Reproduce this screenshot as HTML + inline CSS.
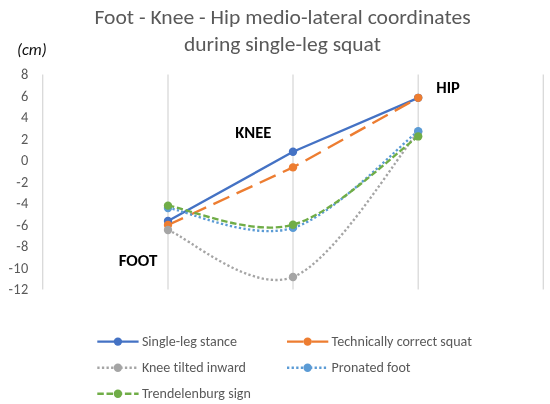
<!DOCTYPE html><html><head><meta charset="utf-8"><title>Foot - Knee - Hip medio-lateral coordinates</title><style>html,body{margin:0;padding:0;background:#fff;width:550px;height:404px;overflow:hidden}svg{display:block}text{font-family:Carlito,"Liberation Sans",sans-serif;font-variant-ligatures:none;font-kerning:normal}</style></head><body>
<svg width="550" height="404" viewBox="0 0 550 404">
<rect width="550" height="404" fill="#fff"/>
<text transform="translate(282.5 24.0) scale(1 0.98)" font-size="21.5" fill="#595959" text-anchor="middle" textLength="376.20" lengthAdjust="spacingAndGlyphs">Foot - Knee - Hip medio-lateral coordinates</text>
<text transform="translate(282.4 50.5) scale(1 0.98)" font-size="21.5" fill="#595959" text-anchor="middle" textLength="197.01" lengthAdjust="spacingAndGlyphs">during single-leg squat</text>
<text x="17" y="55.4" font-size="16.4" font-style="italic" fill="#0d0d0d" textLength="29.73" lengthAdjust="spacingAndGlyphs">(cm)</text>
<text transform="translate(28.6 79.00) scale(1 1.06)" text-rendering="geometricPrecision" font-size="14.4" letter-spacing="0.35" fill="#595959" text-anchor="end" textLength="7.66" lengthAdjust="spacingAndGlyphs">8</text>
<text transform="translate(28.6 100.50) scale(1 1.06)" text-rendering="geometricPrecision" font-size="14.4" letter-spacing="0.35" fill="#595959" text-anchor="end" textLength="7.66" lengthAdjust="spacingAndGlyphs">6</text>
<text transform="translate(28.6 122.00) scale(1 1.06)" text-rendering="geometricPrecision" font-size="14.4" letter-spacing="0.35" fill="#595959" text-anchor="end" textLength="7.66" lengthAdjust="spacingAndGlyphs">4</text>
<text transform="translate(28.6 143.50) scale(1 1.06)" text-rendering="geometricPrecision" font-size="14.4" letter-spacing="0.35" fill="#595959" text-anchor="end" textLength="7.66" lengthAdjust="spacingAndGlyphs">2</text>
<text transform="translate(28.6 165.00) scale(1 1.06)" text-rendering="geometricPrecision" font-size="14.4" letter-spacing="0.35" fill="#595959" text-anchor="end" textLength="7.66" lengthAdjust="spacingAndGlyphs">0</text>
<text transform="translate(28.6 186.50) scale(1 1.06)" text-rendering="geometricPrecision" font-size="14.4" letter-spacing="0.35" fill="#595959" text-anchor="end" textLength="12.41" lengthAdjust="spacingAndGlyphs">-2</text>
<text transform="translate(28.6 208.00) scale(1 1.06)" text-rendering="geometricPrecision" font-size="14.4" letter-spacing="0.35" fill="#595959" text-anchor="end" textLength="12.41" lengthAdjust="spacingAndGlyphs">-4</text>
<text transform="translate(28.6 229.50) scale(1 1.06)" text-rendering="geometricPrecision" font-size="14.4" letter-spacing="0.35" fill="#595959" text-anchor="end" textLength="12.41" lengthAdjust="spacingAndGlyphs">-6</text>
<text transform="translate(28.6 251.00) scale(1 1.06)" text-rendering="geometricPrecision" font-size="14.4" letter-spacing="0.35" fill="#595959" text-anchor="end" textLength="12.41" lengthAdjust="spacingAndGlyphs">-8</text>
<text transform="translate(28.6 272.50) scale(1 1.06)" text-rendering="geometricPrecision" font-size="14.4" letter-spacing="0.35" fill="#595959" text-anchor="end" textLength="20.05" lengthAdjust="spacingAndGlyphs">-10</text>
<text transform="translate(28.6 294.00) scale(1 1.06)" text-rendering="geometricPrecision" font-size="14.4" letter-spacing="0.35" fill="#595959" text-anchor="end" textLength="20.05" lengthAdjust="spacingAndGlyphs">-12</text>
<line x1="42.7" y1="74.50" x2="42.7" y2="289.50" stroke="#d9d9d9" stroke-width="1.3"/>
<line x1="168.0" y1="74.50" x2="168.0" y2="289.50" stroke="#d9d9d9" stroke-width="1.3"/>
<line x1="293.0" y1="74.50" x2="293.0" y2="289.50" stroke="#d9d9d9" stroke-width="1.3"/>
<line x1="418.2" y1="74.50" x2="418.2" y2="289.50" stroke="#d9d9d9" stroke-width="1.3"/>
<line x1="543.3" y1="74.50" x2="543.3" y2="289.50" stroke="#d9d9d9" stroke-width="1.3"/>
<path d="M168.00,221.02 L293.00,151.79 L418.20,97.83" fill="none" stroke="#4472C4" stroke-width="2.35" stroke-linejoin="round" stroke-linecap="round"/>
<path d="M168.00,225.00 L293.00,167.38 L418.20,97.83" fill="none" stroke="#ED7D31" stroke-width="2.35" stroke-linejoin="round" stroke-dasharray="17.5 8.0" stroke-dashoffset="1.0" stroke-linecap="butt"/>
<path d="M168.00,230.05 C188.83,237.88 251.30,293.37 293.00,277.03 C334.70,260.69 397.33,156.18 418.20,132.01" fill="none" stroke="#A5A5A5" stroke-width="2.35" stroke-linejoin="round" stroke-dasharray="2.3 2.3" stroke-linecap="butt"/>
<path d="M168.00,208.01 C188.83,211.33 251.30,240.71 293.00,227.90 C334.70,215.09 397.33,147.28 418.20,131.15" fill="none" stroke="#5B9BD5" stroke-width="2.35" stroke-linejoin="round" stroke-dasharray="2.3 2.3" stroke-linecap="butt"/>
<path d="M168.00,205.65 C188.83,208.84 251.30,236.32 293.00,224.78 C334.70,213.25 397.33,151.15 418.20,136.42" fill="none" stroke="#70AD47" stroke-width="2.35" stroke-linejoin="round" stroke-dasharray="6.5 2.7" stroke-linecap="butt"/>
<circle cx="168.0" cy="221.02" r="4.2" fill="#4472C4"/>
<circle cx="293.0" cy="151.79" r="4.2" fill="#4472C4"/>
<circle cx="418.2" cy="97.83" r="4.2" fill="#4472C4"/>
<circle cx="168.0" cy="225.00" r="4.2" fill="#ED7D31"/>
<circle cx="293.0" cy="167.38" r="4.2" fill="#ED7D31"/>
<circle cx="418.2" cy="97.83" r="4.2" fill="#ED7D31"/>
<circle cx="168.0" cy="230.05" r="4.2" fill="#A5A5A5"/>
<circle cx="293.0" cy="277.03" r="4.2" fill="#A5A5A5"/>
<circle cx="418.2" cy="132.01" r="4.2" fill="#A5A5A5"/>
<circle cx="168.0" cy="208.01" r="4.2" fill="#5B9BD5"/>
<circle cx="293.0" cy="227.90" r="4.2" fill="#5B9BD5"/>
<circle cx="418.2" cy="131.15" r="4.2" fill="#5B9BD5"/>
<circle cx="168.0" cy="205.65" r="4.2" fill="#70AD47"/>
<circle cx="293.0" cy="224.78" r="4.2" fill="#70AD47"/>
<circle cx="418.2" cy="136.42" r="4.2" fill="#70AD47"/>
<text x="235.3" y="138" font-size="16.5" font-weight="bold" fill="#000" textLength="36.00" lengthAdjust="spacingAndGlyphs">KNEE</text>
<text x="118.7" y="265.6" font-size="16.5" font-weight="bold" fill="#000" textLength="38.60" lengthAdjust="spacingAndGlyphs">FOOT</text>
<text x="436.3" y="92.7" font-size="16.5" font-weight="bold" fill="#000" textLength="23.59" lengthAdjust="spacingAndGlyphs">HIP</text>
<path d="M97.30,341.60 L138.60,341.60" fill="none" stroke="#4472C4" stroke-width="2.35" stroke-linecap="butt"/>
<circle cx="117.90" cy="341.60" r="4.2" fill="#4472C4"/>
<text x="141.90" y="346.00" font-size="14.05" fill="#595959" textLength="95.09" lengthAdjust="spacingAndGlyphs">Single-leg stance</text>
<path d="M287.00,341.60 L328.30,341.60" fill="none" stroke="#ED7D31" stroke-width="2.35" stroke-dasharray="17.5 8.0" stroke-dashoffset="1.0" stroke-linecap="butt"/>
<circle cx="307.60" cy="341.60" r="4.2" fill="#ED7D31"/>
<text x="331.60" y="346.00" font-size="14.05" fill="#595959" textLength="140.25" lengthAdjust="spacingAndGlyphs">Technically correct squat</text>
<path d="M97.30,367.70 L138.60,367.70" fill="none" stroke="#A5A5A5" stroke-width="2.35" stroke-dasharray="2.3 2.3" stroke-linecap="butt"/>
<circle cx="117.90" cy="367.70" r="4.2" fill="#A5A5A5"/>
<text x="141.90" y="372.10" font-size="14.05" fill="#595959" textLength="104.08" lengthAdjust="spacingAndGlyphs">Knee tilted inward</text>
<path d="M287.00,367.70 L328.30,367.70" fill="none" stroke="#5B9BD5" stroke-width="2.35" stroke-dasharray="2.3 2.3" stroke-linecap="butt"/>
<circle cx="307.60" cy="367.70" r="4.2" fill="#5B9BD5"/>
<text x="331.60" y="372.10" font-size="14.05" fill="#595959" textLength="78.94" lengthAdjust="spacingAndGlyphs">Pronated foot</text>
<path d="M97.30,393.70 L138.60,393.70" fill="none" stroke="#70AD47" stroke-width="2.35" stroke-dasharray="6.5 2.7" stroke-linecap="butt"/>
<circle cx="117.90" cy="393.70" r="4.2" fill="#70AD47"/>
<text x="141.90" y="398.10" font-size="14.05" fill="#595959" textLength="108.98" lengthAdjust="spacingAndGlyphs">Trendelenburg sign</text>
</svg></body></html>
